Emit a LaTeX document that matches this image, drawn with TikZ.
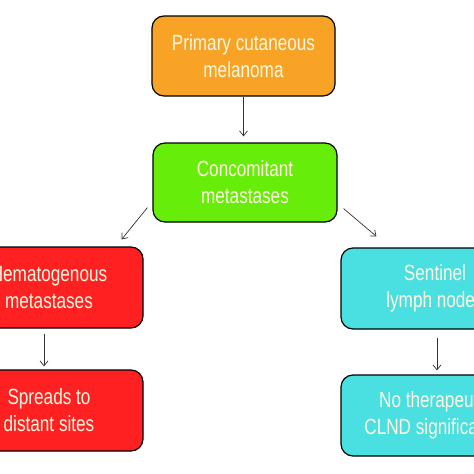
\documentclass[tikz,border=0pt]{standalone}
\usepackage{fontspec}
\setmainfont{Liberation Sans}[FakeStretch=0.78]
\usetikzlibrary{arrows.meta}
\definecolor{cOrange}{HTML}{F8A326}
\definecolor{cGreen}{HTML}{66EE0A}
\definecolor{cRed}{HTML}{FF2121}
\definecolor{cCyan}{HTML}{4ADFE0}
\definecolor{cText}{HTML}{FFF8E0}
\tikzset{
  box/.style={draw=black, line width=1.2pt, rounded corners=12pt, minimum width=#1, minimum height=80pt,
    inner sep=0pt, align=center, text=cText, font=\fontsize{22pt}{27pt}\selectfont},
  box/.default=184pt,
  arr/.style={draw=black!80, line width=0.7pt, -{Straight Barb[length=5pt,width=8pt]}}
}
\begin{document}
\begin{tikzpicture}[x=1pt,y=-1pt]
\useasboundingbox (0,0) rectangle (474,474);
\clip (0,0) rectangle (474,474);
\fill[white] (0,0) rectangle (474,474);
\node[box=183pt, fill=cOrange] (top) at (243.5,56) {Primary cutaneous\\melanoma};
\node[box=184pt, fill=cGreen, minimum height=79pt] (mid) at (245,182.5) {Concomitant\\metastases};
\node[box=188pt, fill=cRed, minimum height=81pt] (hem) at (49,287.5) {Hematogenous\\metastases};
\node[box=188pt, fill=cRed, minimum height=81pt] (spr) at (49,410.5) {Spreads to\\distant sites};
\node[box=188pt, fill=cCyan, minimum height=81pt] (sen) at (435,288.5) {Sentinel\\lymph nodes};
\node[box=188pt, fill=cCyan, minimum height=81pt] (nth) at (435,415.5) {No therapeutic\\CLND significance};
\draw[arr, shorten >=6pt] (top.south) -- (top.south |- mid.north);
\draw[arr] ([xshift=-5pt,yshift=15pt]mid.south west) -- ([xshift=-22pt,yshift=7pt]hem.north east);
\draw[arr] ([xshift=6pt,yshift=14pt]mid.south east) -- ([xshift=36pt,yshift=11pt]sen.north west);
\draw[arr, shorten <=5pt, shorten >=3pt] ([xshift=-5pt]hem.south) -- ([xshift=-5pt]spr.north);
\draw[arr, shorten <=8pt, shorten >=4pt] ([xshift=2pt]sen.south) -- ([xshift=2pt]nth.north);
\end{tikzpicture}
\end{document}
